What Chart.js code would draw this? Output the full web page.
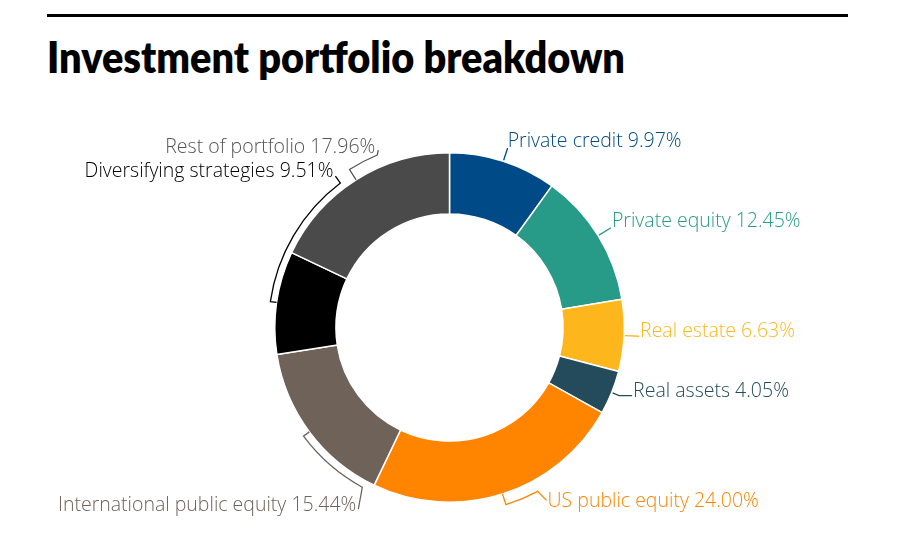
<!DOCTYPE html>
<html>
<head>
<meta charset="utf-8">
<script src="https://cdn.jsdelivr.net/npm/chart.js@4/dist/chart.umd.min.js"></script>
<style>
  html, body { margin: 0; padding: 0; background: #fff; }
  .wrap { position: relative; width: 906px; height: 552px; overflow: hidden; }
  .rule { position: absolute; left: 47px; top: 14px; width: 801px; height: 3px; background: #000; }
  h1 {
    position: absolute; left: 47px; top: 31px; margin: 0;
    font: 800 43px "Lato", sans-serif; color: #000; white-space: nowrap;
    transform-origin: left top;
  }
  canvas { position: absolute; left: 0; top: 0; }
</style>
</head>
<body>
<div class="wrap">
  <div class="rule"></div>
  <h1 id="title">Investment portfolio breakdown</h1>
  <canvas id="chart" width="906" height="552"></canvas>
</div>
<script>
// data, clockwise from 12 o'clock
const categories = [
  "Private credit",
  "Private equity",
  "Real estate",
  "Real assets",
  "US public equity",
  "International public equity",
  "Diversifying strategies",
  "Rest of portfolio"
]
const shares = [9.97, 12.45, 6.63, 4.05, 24.0, 15.44, 9.51, 17.96]

const sliceColors = ["#004b87", "#279b87", "#fdb71c", "#234b5b", "#ff8400", "#6e6259", "#000000", "#4a4a4a"]
const textColors = ["#004b87", "#279b87", "#fdb71c", "#234b5b", "#ff8400", "#6e6259", "#000000", "#555555"]

// how each callout leaves its slice (leader = short tick, bracket = arc along the rim)
const callouts = [
  { type: "leader", len: 14, run: 0, align: "left", tx: 0, ty: -6 },
  { type: "leader", len: 15, run: 0, align: "left", tx: 1, ty: -6 },
  { type: "leader", len: 15, run: 0, align: "left", tx: 1, ty: -5 },
  { type: "leader", len: 8, run: 13, align: "left", tx: 1, ty: -4 },
  { type: "bracket", r: 186, sweep: -10.6, dx: 9, dy: 9, align: "left", tx: 1, ty: 1 },
  { type: "bracket", r: 182, sweep: -24.7, dx: -4, dy: 22, align: "right", tx: -2, ty: -4 },
  { type: "bracket", r: 181, sweep: 44.7, dx: -5, dy: -7, align: "right", tx: -2, ty: -5 },
  { type: "bracket", r: 187, sweep: 9.6, dx: 1, dy: -5, align: "right", tx: -3, ty: -3 }
]

// squeeze the title to the width it has in the picture
const title = document.getElementById("title")
title.style.transform = "scaleX(" + (578 / title.getBoundingClientRect().width) + ")"

const sliceLabels = {
  id: "sliceLabels",
  afterDatasetsDraw(chart) {
    const ctx = chart.ctx
    const arcs = chart.getDatasetMeta(0).data

    arcs.forEach((arc, i) => {
      const p = arc.getProps(["x", "y", "startAngle", "endAngle", "outerRadius"], true)
      const mid = (p.startAngle + p.endAngle) / 2
      const R = p.outerRadius
      const o = callouts[i]
      const at = (a, r) => ({ x: p.x + Math.cos(a) * r, y: p.y + Math.sin(a) * r })
      let end

      ctx.save()
      ctx.strokeStyle = textColors[i]
      ctx.lineWidth = 1.3
      ctx.beginPath()
      if (o.type === "leader") {
        const a = at(mid, R + 1)
        const b = at(mid, R + o.len)
        ctx.moveTo(a.x, a.y)
        ctx.lineTo(b.x, b.y)
        end = { x: b.x + o.run, y: b.y }
        ctx.lineTo(end.x, end.y)
      } else {
        const a2 = mid + (o.sweep * Math.PI) / 180
        const a = at(mid, R)
        const b = at(mid, o.r)
        ctx.moveTo(a.x, a.y)
        ctx.lineTo(b.x, b.y)
        ctx.arc(p.x, p.y, o.r, mid, a2, o.sweep < 0)
        const c = at(a2, o.r)
        end = { x: c.x + o.dx, y: c.y + o.dy }
        ctx.lineTo(end.x, end.y)
      }
      ctx.stroke()

      ctx.fillStyle = textColors[i]
      ctx.font = "300 19.5px 'Open Sans', sans-serif"
      ctx.textAlign = o.align
      ctx.textBaseline = "middle"
      ctx.fillText(categories[i] + " " + shares[i].toFixed(2) + "%", end.x + o.tx, end.y + o.ty)
      ctx.restore()
    })
  }
}

new Chart(document.getElementById("chart"), {
  type: "doughnut",
  data: {
    labels: categories,
    datasets: [
      {
        data: shares,
        backgroundColor: sliceColors,
        borderColor: "#ffffff",
        borderWidth: 1.5,
        hoverOffset: 0
      }
    ]
  },
  options: {
    responsive: false,
    maintainAspectRatio: false,
    animation: false,
    cutout: "65%",
    layout: { padding: { top: 152, left: 274, right: 281, bottom: 49 } },
    plugins: {
      legend: { display: false },
      tooltip: { enabled: false }
    }
  },
  plugins: [sliceLabels]
})
</script>
</body>
</html>
